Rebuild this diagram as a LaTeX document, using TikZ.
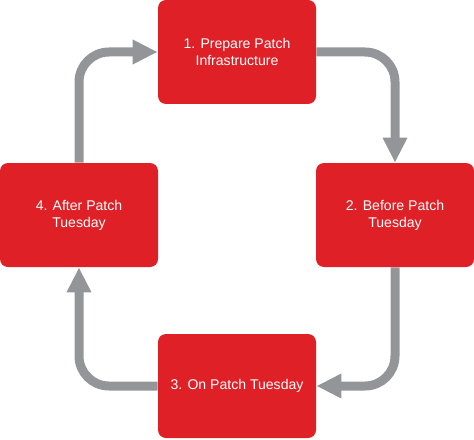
\documentclass[tikz,border=0pt]{standalone}
\usepackage{fontspec}
\setmainfont{Liberation Sans}
\usetikzlibrary{positioning,arrows.meta}
\definecolor{patchred}{HTML}{E02027}
\definecolor{flowgray}{HTML}{939598}
\begin{document}
\begin{tikzpicture}[on grid, main/.style = {fill=patchred, rounded corners=0.16cm, minimum width=3.16cm, minimum height=2.08cm, align=center, text=white, font=\fontsize{8}{9.6}\selectfont}, flow/.style = {draw=flowgray, line width=0.18cm, rounded corners=0.6cm, -{Triangle[width=0.46cm, length=0.5cm]}}]
    \useasboundingbox (0,0) rectangle (9.48,-8.78);
    \node[main] (prep) at (4.74,-1.04) {1. Prepare Patch\\Infrastructure};
    \node[main] (before) [below right=3.26cm and 3.16cm of prep] {2. Before Patch\\Tuesday};
    \node[main] (on) [below=6.68cm of prep] {3. On Patch Tuesday};
    \node[main] (after) [below left=3.26cm and 3.16cm of prep] {4. After Patch\\Tuesday};
    \draw[flow] (prep.east) -| (before.north);
    \draw[flow] (before.south) |- (on.east);
    \draw[flow] (on.west) -| (after.south);
    \draw[flow] (after.north) |- (prep.west);
\end{tikzpicture}
\end{document}
